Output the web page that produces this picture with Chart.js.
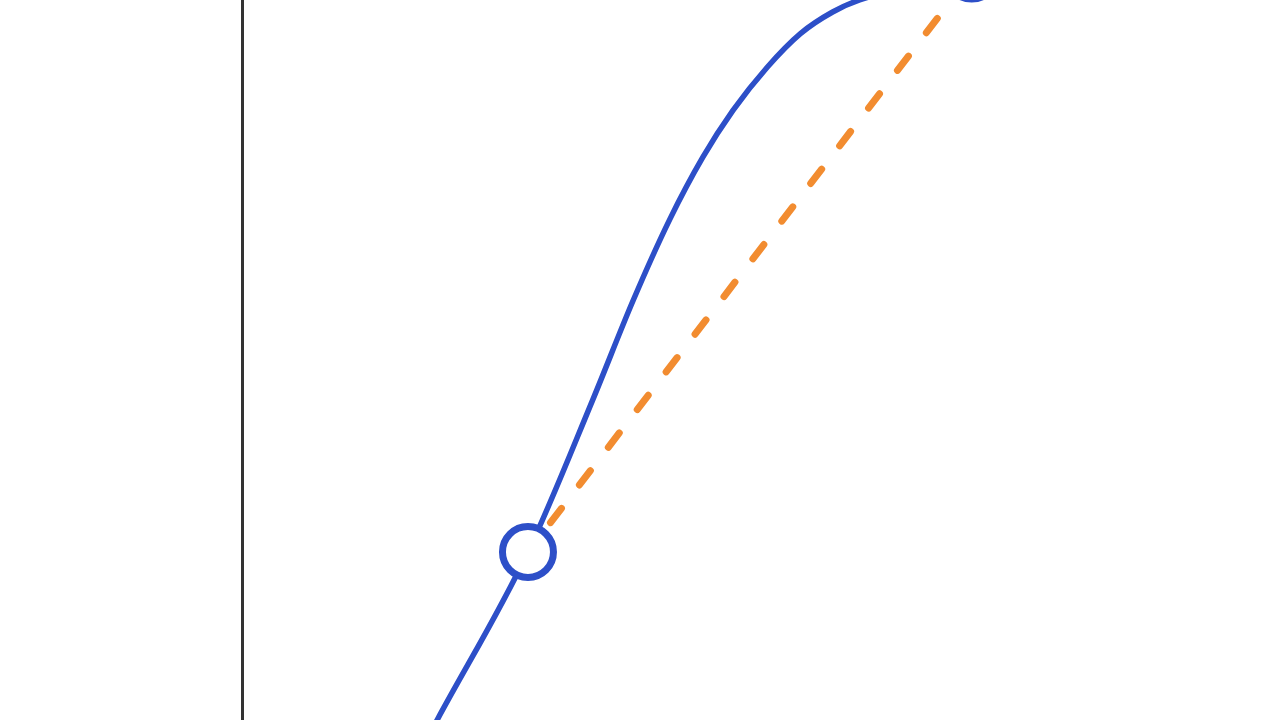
<!DOCTYPE html>
<html lang="en">
<head>
  <meta charset="UTF-8">
  <title>Secant on a curve</title>
  <script src="https://cdn.jsdelivr.net/npm/chart.js"></script>
  <style>
    html, body {
      margin: 0;
      padding: 0;
      background: #ffffff;
      overflow: hidden;
    }
    canvas {
      display: block;
    }
  </style>
</head>
<body>
<canvas id="curveChart" width="1280" height="720"></canvas>

<script>
  // curve samples (x, y in axis units)
  const curveX = [1.62, 1.88, 2.755, 3.38, 3.77, 4.12, 4.44, 4.73, 5.06, 5.38, 5.69, 5.95, 7.03, 8.27];
  const curveY = [-0.42, 0, 1.40, 2.67, 3.50, 4.17, 4.69, 5.08, 5.44, 5.72, 5.90, 6.00, 6.22, 6.32];

  // the two marked points, joined by the dashed secant
  const markX = [2.755, 7.03];
  const markY = [1.40, 6.22];

  const xMin = 0, xMax = 10;
  const yMin = 0, yMax = 6;

  const toPoints = (xs, ys) => xs.map((x, i) => ({ x: x, y: ys[i] }));

  const blue = '#2d4fc8';
  const orange = '#f28c30';

  const ctx = document.getElementById('curveChart').getContext('2d');
  const curveChart = new Chart(ctx, {
    type: 'line',
    data: {
      datasets: [
        {
          label: 'secant',
          data: toPoints(markX, markY),
          borderColor: orange,
          borderWidth: 7,
          borderDash: [18, 29.5],
          borderDashOffset: 10.5,
          borderCapStyle: 'round',
          pointRadius: 0,
          fill: false,
          clip: false,
          order: 3
        },
        {
          label: 'curve',
          data: toPoints(curveX, curveY),
          borderColor: blue,
          borderWidth: 5.5,
          cubicInterpolationMode: 'monotone',
          pointRadius: 0,
          fill: false,
          clip: false,
          order: 2
        },
        {
          label: 'points',
          data: toPoints(markX, markY),
          showLine: false,
          pointRadius: 25.5,
          pointBorderWidth: 7,
          pointBorderColor: blue,
          pointBackgroundColor: '#ffffff',
          clip: false,
          order: 1
        }
      ]
    },
    options: {
      responsive: false,
      animation: false,
      events: [],
      layout: {
        autoPadding: false,
        padding: { left: 242, right: 0, top: 0, bottom: 0 }
      },
      scales: {
        x: {
          type: 'linear',
          min: xMin,
          max: xMax,
          display: false
        },
        y: {
          type: 'linear',
          min: yMin,
          max: yMax,
          grid: { display: false },
          ticks: { display: false },
          border: { display: true, color: '#333333', width: 3 },
          afterFit: (scale) => { scale.width = 0; }
        }
      },
      plugins: {
        legend: { display: false },
        tooltip: { enabled: false }
      }
    }
  });
</script>
</body>
</html>
